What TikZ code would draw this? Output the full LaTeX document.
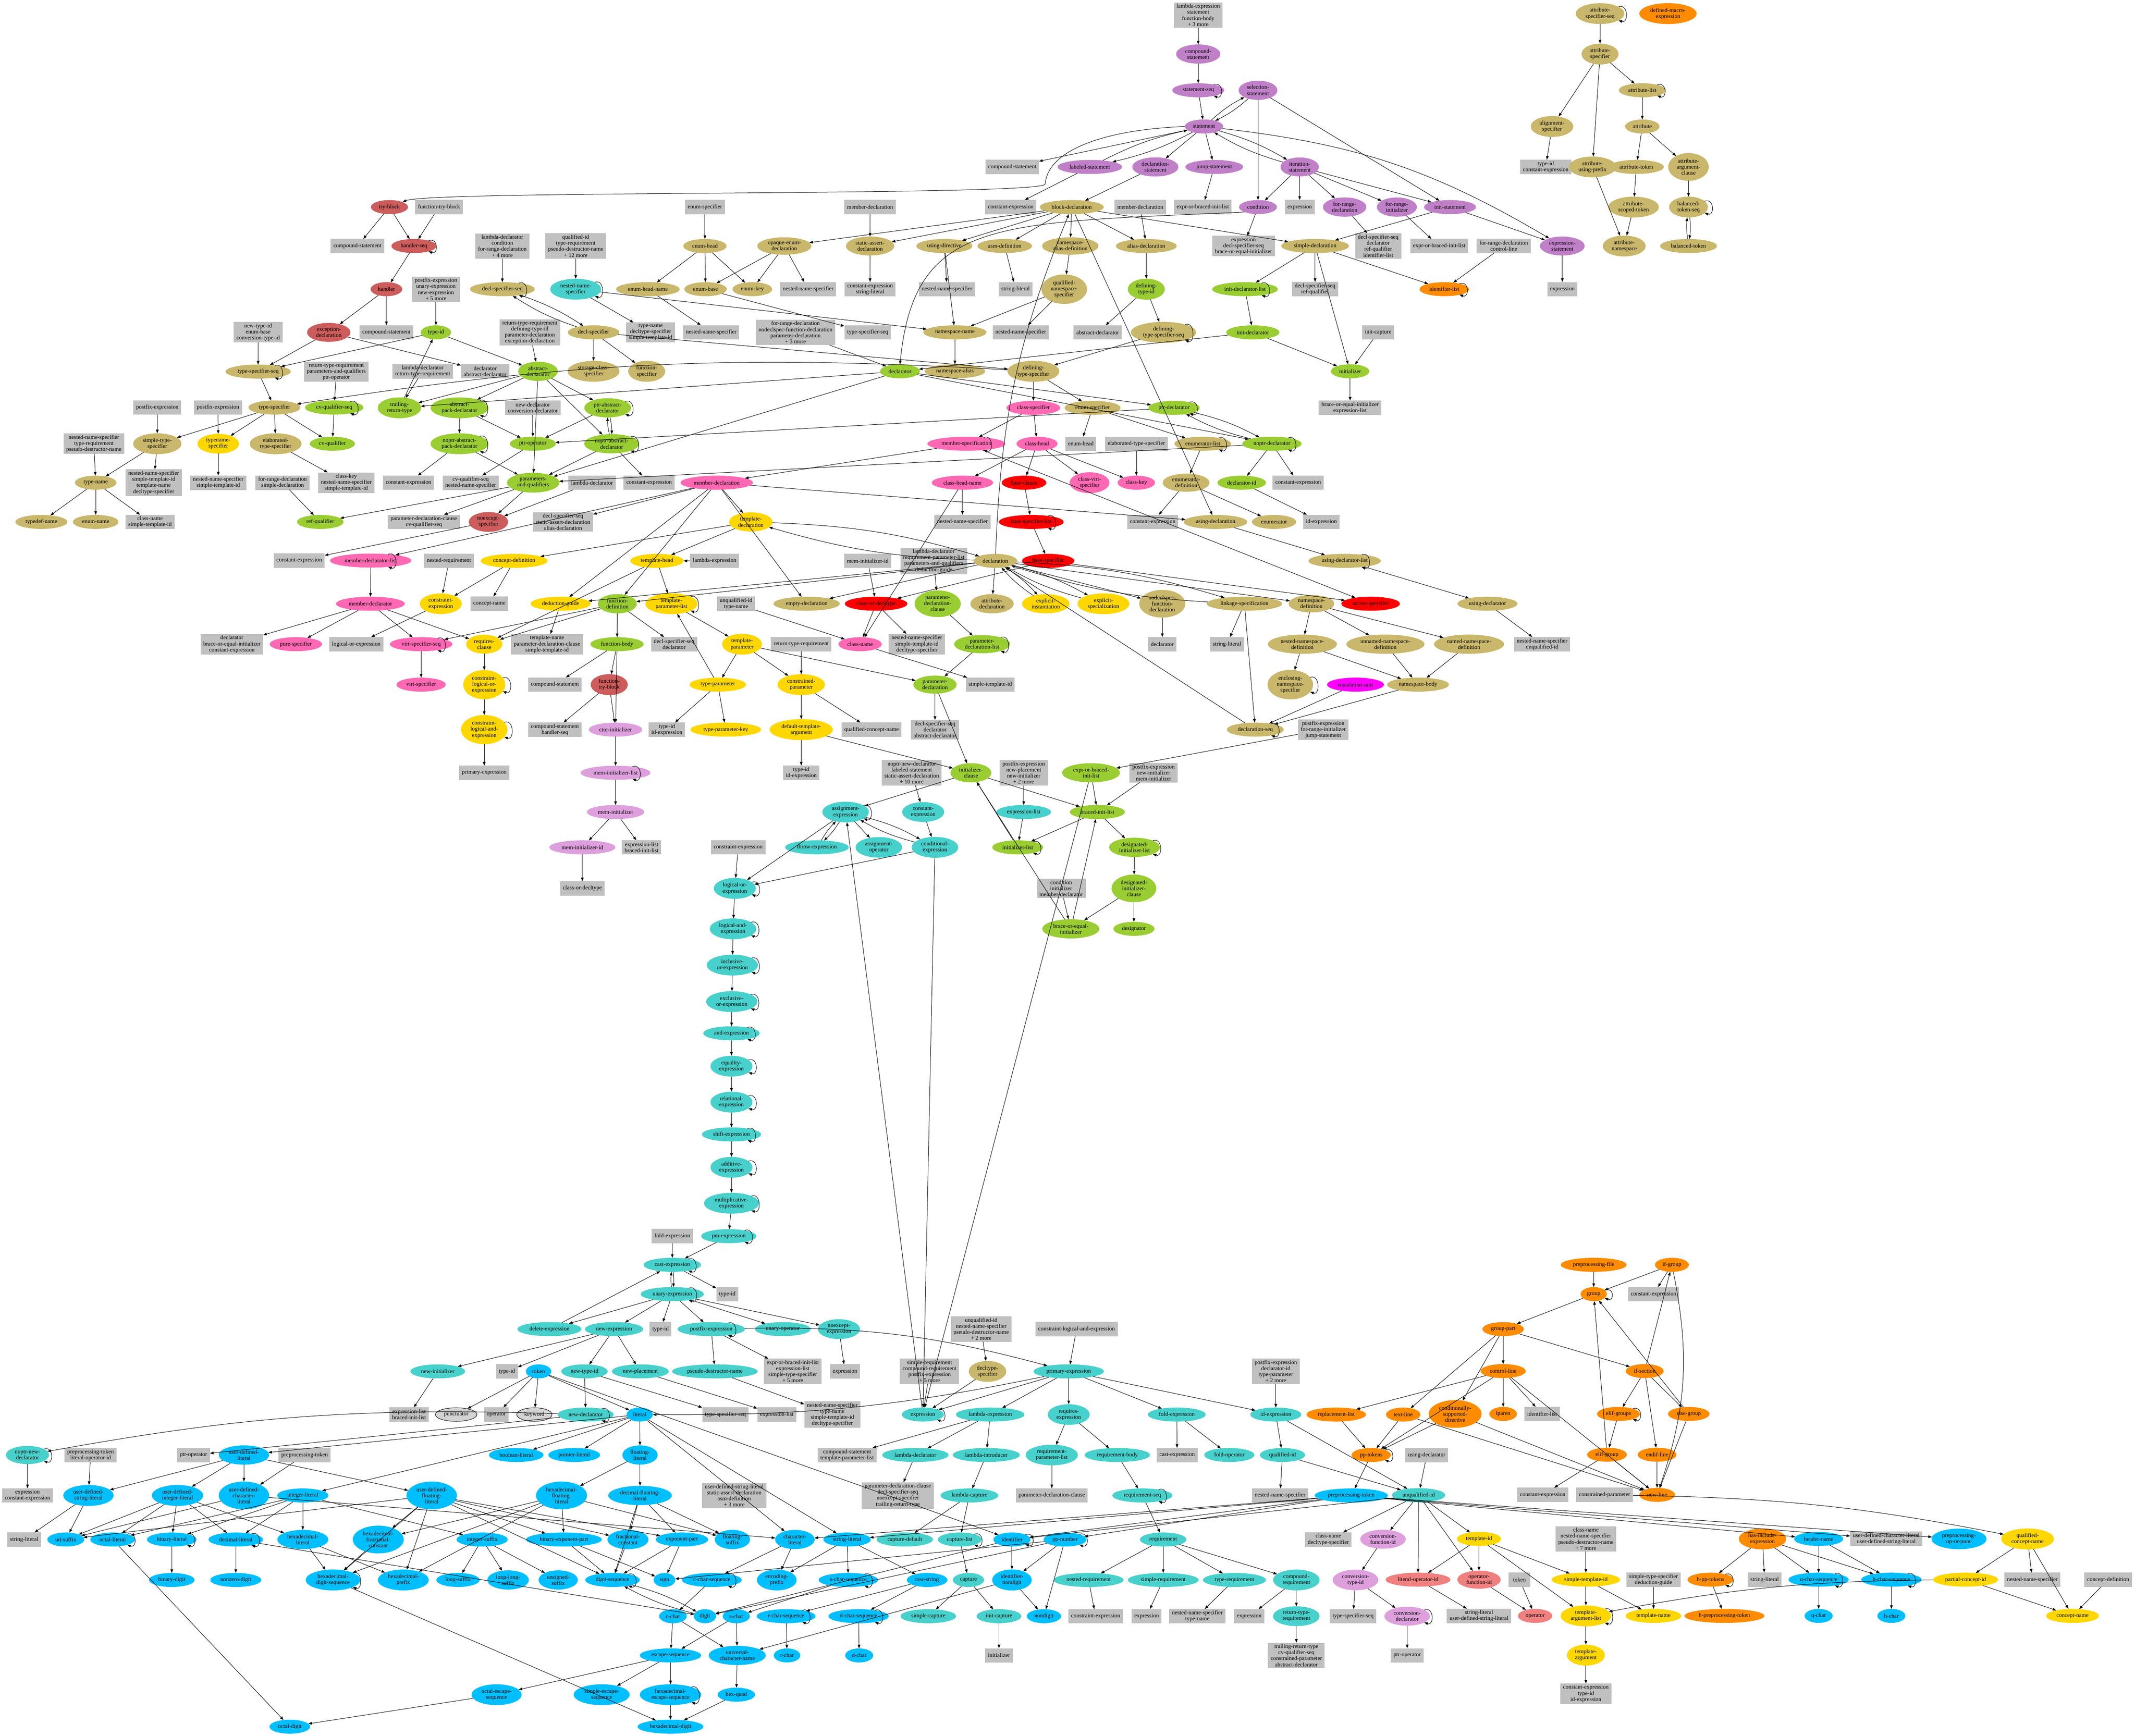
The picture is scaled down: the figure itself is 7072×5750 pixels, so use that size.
\documentclass[tikz,border=0pt]{standalone}
\usepackage{fontspec}
\setmainfont{Liberation Serif}
\usetikzlibrary{shapes.geometric,arrows.meta}
\definecolor{cst}{RGB}{192,128,200}
\definecolor{cdc}{RGB}{201,183,107}
\definecolor{cgr}{RGB}{154,205,50}
\definecolor{cpk}{RGB}{255,105,180}
\definecolor{crd}{RGB}{255,0,0}
\definecolor{ceh}{RGB}{205,92,92}
\definecolor{cyl}{RGB}{255,215,0}
\definecolor{cex}{RGB}{72,209,204}
\definecolor{clx}{RGB}{0,191,255}
\definecolor{cor}{RGB}{255,140,0}
\definecolor{cpl}{RGB}{221,160,221}
\definecolor{clc}{RGB}{240,128,128}
\definecolor{cmg}{RGB}{255,0,255}
\definecolor{cgy}{RGB}{211,211,211}
\definecolor{cbx}{RGB}{192,192,192}
\tikzset{
 every node/.style={font=\fontsize{5.4}{5.7}\selectfont, align=center, text=black},
 el/.style={ellipse, fill=#1, draw=#1, inner xsep=2.3pt, inner ysep=1.5pt, minimum height=0.45cm, minimum width=0.7cm},
 sst/.style={el=cst}, sdc/.style={el=cdc}, sgr/.style={el=cgr}, spk/.style={el=cpk},
 srd/.style={el=crd}, seh/.style={el=ceh}, syl/.style={el=cyl}, sex/.style={el=cex},
 slx/.style={el=clx}, sor/.style={el=cor}, spl/.style={el=cpl}, slc/.style={el=clc}, smg/.style={el=cmg},
 sgy/.style={ellipse, fill=cgy, draw=black, line width=0.4pt, inner xsep=2.3pt, inner ysep=1.5pt, minimum height=0.45cm, minimum width=0.7cm},
 sbx/.style={rectangle, fill=cbx, draw=cbx, inner xsep=2.4pt, inner ysep=1.3pt, minimum height=0.46cm, minimum width=0.7cm},
 ar/.style={-{Triangle[length=1.2mm,width=0.9mm]}, line width=0.4pt},
}
\newcommand\Nd[5]{\node[#1] (#2) at (#3,#4) {#5};}
\newcommand\Ed[2]{\draw[ar] (#1) -- (#2);}
\newcommand\Eb[2]{\draw[ar] (#1) to[bend left=7] (#2); \draw[ar] (#2) to[bend left=7] (#1);}
\newcommand\SLp[1]{\draw[ar] (#1.20) .. controls +(20:0.35cm) and +(-20:0.35cm) .. (#1.-20);}
\begin{document}
\begin{tikzpicture}[x=0.01cm,y=-0.01cm]
\fill[white] (0,0) rectangle (7072,5750);
\useasboundingbox (0,0) rectangle (7072,5750);
% ---------------- statements
\Nd{sbx}{bx1}{3969}{50}{lambda-expression\\statement\\function-body\\+ 3 more}
\Nd{sst}{cmpst}{3969}{179}{compound-\\statement}
\Nd{sst}{stseq}{3969}{299}{statement-seq}
\Nd{sst}{selst}{4167}{299}{selection-\\statement}
\Nd{sst}{stmt}{3988}{419}{statement}
\Nd{sbx}{bx2}{3353}{553}{compound-statement}
\Nd{sst}{labst}{3610}{553}{labeled-statement}
\Nd{sst}{declst}{3827}{553}{declaration-\\statement}
\Nd{sst}{jumpst}{4022}{553}{jump-statement}
\Nd{sst}{iterst}{4305}{553}{iteration-\\statement}
\Nd{sbx}{bx3}{3348}{686}{constant-expression}
\Nd{sdc}{blkdecl}{3550}{686}{block-declaration}
\Nd{sbx}{bx4}{3777}{686}{member-declaration}
\Nd{sbx}{bx5}{3984}{686}{expr-or-braced-init-list}
\Nd{sst}{cond}{4167}{686}{condition}
\Nd{sbx}{bx6}{4305}{686}{expression}
\Nd{sst}{frdecl}{4454}{686}{for-range-\\declaration}
\Nd{sst}{frinit}{4627}{686}{for-range-\\initializer}
\Nd{sst}{initst}{4803}{686}{init-statement}
\Nd{sst}{exprst}{5175}{815}{expression-\\statement}
\Nd{sbx}{bx7}{4119}{815}{expression\\decl-specifier-seq\\brace-or-equal-initializer}
\Nd{sbx}{bx8}{4565}{815}{decl-specifier-seq\\declarator\\ref-qualifier\\identifier-list}
\Nd{sbx}{bx9}{4767}{815}{expr-or-braced-init-list}
\Nd{sbx}{bx10}{4981}{815}{for-range-declaration\\control-line}
\Nd{sbx}{bx11}{4356}{958}{decl-specifier-seq\\ref-qualifier}
\Nd{sbx}{bx12}{5175}{958}{expression}
\Nd{sbx}{bx13}{3636}{1101}{abstract-declarator}
\Nd{sbx}{bx14}{4565}{1101}{init-capture}
\Nd{sbx}{bx15}{4472}{1351}{brace-or-equal-initializer\\expression-list}
\Nd{sbx}{bx16}{3580}{1470}{enum-head}
\Nd{sbx}{bx17}{3764}{1470}{elaborated-type-specifier}
\Nd{sbx}{bx18}{4300}{1599}{constant-expression}
\Nd{sbx}{bx19}{3818}{1729}{constant-expression}
\Nd{sbx}{bx20}{4377}{1729}{id-expression}
\Nd{sdc}{nsaliasdef}{3545}{815}{namespace-\\alias-definition}
\Nd{sdc}{aliasdecl}{3797}{815}{alias-declaration}
\Nd{sdc}{simpdecl}{4356}{815}{simple-declaration}
\Nd{sdc}{qns}{3525}{958}{qualified-\\namespace-\\specifier}
\Nd{sdc}{dtss}{3854}{1101}{defining-\\type-specifier-seq}
\Nd{sdc}{dts}{3423}{1230}{defining-\\type-specifier}
\Nd{sdc}{enumspec}{3619}{1351}{enum-specifier}
\Nd{sdc}{enumlist}{3984}{1470}{enumerator-list}
\Nd{sdc}{enumdef}{3929}{1599}{enumerator-\\definition}
\Nd{sdc}{usingdecl}{4026}{1729}{using-declaration}
\Nd{sdc}{enumerator}{4220}{1729}{enumerator}
\Nd{sdc}{udlist}{4454}{1858}{using-declarator-list}
% attributes
\Nd{sdc}{attrseq}{5300}{45}{attribute-\\specifier-seq}
\Nd{sor}{defmacro}{5525}{45}{defined-macro-\\expression}
\Nd{sdc}{attrspec}{5300}{179}{attribute-\\specifier}
\Nd{sdc}{attrlist}{5440}{299}{attribute-list}
\Nd{sdc}{alignspec}{5141}{419}{alignment-\\specifier}
\Nd{sdc}{attr}{5440}{419}{attribute}
\Nd{sbx}{bxattr}{5120}{553}{type-id\\constant-expression}
\Nd{sdc}{attrusing}{5275}{553}{attribute-\\using-prefix}
\Nd{sdc}{attrtok}{5420}{553}{attribute-token}
\Nd{sdc}{attrargs}{5593}{553}{attribute-\\argument-\\clause}
\Nd{sdc}{attrscoped}{5411}{686}{attribute-\\scoped-token}
\Nd{sdc}{bts}{5593}{686}{balanced-\\token-seq}
\Nd{sdc}{attrns}{5380}{815}{attribute-\\namespace}
\Nd{sdc}{btok}{5593}{815}{balanced-token}
% declarators (right)
\Nd{sgr}{dtid}{3797}{958}{defining-\\type-id}
\Nd{sor}{idl}{4784}{958}{identifier-list}
\Nd{sgr}{initdl}{4124}{958}{init-declarator-list}
\Nd{sgr}{initd}{4150}{1101}{init-declarator}
\Nd{sgr}{initzr}{4472}{1230}{initializer}
\Nd{sgr}{ptrdecl}{3889}{1351}{ptr-declarator}
\Nd{sgr}{noptrdecl}{4213}{1470}{noptr-declarator}
\Nd{sgr}{declid}{4113}{1599}{declarator-id}
\Nd{sgr}{declarator}{2981}{1230}{declarator}
\Nd{spk}{classvirt}{3609}{1599}{class-virt-\\specifier}
\Nd{spk}{classkey}{3764}{1599}{class-key}
\Nd{sdc}{usingdeclr}{4927}{2000}{using-declarator}
\Nd{sbx}{bx83}{5108}{2134}{nested-name-specifier\\unqualified-id}
% zoom 3 area
\Nd{seh}{trybl}{1290}{686}{try-block}
\Nd{sbx}{bx21}{1454}{686}{function-try-block}
\Nd{sbx}{bx22}{2335}{686}{enum-specifier}
\Nd{sbx}{bx23}{2882}{686}{member-declaration}
\Nd{sbx}{bx24}{1184}{815}{compound-statement}
\Nd{seh}{hseq}{1371}{815}{handler-seq}
\Nd{sbx}{bx25}{1664}{815}{lambda-declarator\\condition\\for-range-declaration\\+ 4 more}
\Nd{sbx}{bx26}{1907}{815}{qualified-id\\type-requirement\\pseudo-destructor-name\\+ 12 more}
\Nd{sdc}{enumhead}{2335}{815}{enum-head}
\Nd{sdc}{opaque}{2598}{815}{opaque-enum-\\declaration}
\Nd{sdc}{sad}{2882}{815}{static-assert-\\declaration}
\Nd{sdc}{usingdir}{3128}{815}{using-directive}
\Nd{sdc}{asmdef}{3328}{815}{asm-definition}
\Nd{seh}{handler}{1280}{958}{handler}
\Nd{sbx}{bx27}{1444}{958}{postfix-expression\\unary-expression\\new-expression\\+ 5 more}
\Nd{sdc}{dss}{1664}{958}{decl-specifier-seq}
\Nd{sex}{nns}{1907}{958}{nested-name-\\specifier}
\Nd{sdc}{ehn}{2146}{958}{enum-head-name}
\Nd{sdc}{enumbase}{2337}{958}{enum-base}
\Nd{sdc}{enumkey}{2492}{958}{enum-key}
\Nd{sbx}{bx28}{2677}{958}{nested-name-specifier}
\Nd{sbx}{bx29}{2882}{958}{constant-expression\\string-literal}
\Nd{sbx}{bx30}{3137}{958}{nested-name-specifier}
\Nd{sbx}{bx31}{3364}{958}{string-literal}
\Nd{seh}{excdecl}{1089}{1101}{exception-\\declaration}
\Nd{sbx}{bx32}{1280}{1101}{compound-statement}
\Nd{sgr}{typeid}{1444}{1101}{type-id}
\Nd{sbx}{bx33}{1755}{1101}{return-type-requirement\\defining-type-id\\parameter-declaration\\exception-declaration}
\Nd{sdc}{declspec}{1966}{1101}{decl-specifier}
\Nd{sbx}{bx34}{2155}{1101}{type-name\\decltype-specifier\\simple-template-id}
\Nd{sbx}{bx35}{2356}{1101}{nested-name-specifier}
\Nd{sbx}{bx36}{2635}{1101}{for-range-declaration\\nodeclspec-function-declaration\\parameter-declaration\\+ 3 more}
\Nd{sbx}{bx37}{2874}{1101}{type-specifier-seq}
\Nd{sdc}{nsname}{3163}{1101}{namespace-name}
\Nd{sbx}{bx38}{3381}{1101}{nested-name-specifier}
\Nd{sbx}{bx39}{855}{1101}{new-type-id\\enum-base\\conversion-type-id}
\Nd{sdc}{tss}{855}{1231}{type-specifier-seq}
\Nd{sbx}{bx40}{1114}{1231}{return-type-requirement\\parameters-and-qualifiers\\ptr-operator}
\Nd{sbx}{bx41}{1400}{1230}{lambda-declarator\\return-type-requirement}
\Nd{sbx}{bx42}{1607}{1230}{declarator\\abstract-declarator}
\Nd{sgr}{absdecl}{1782}{1230}{abstract-\\declarator}
\Nd{sdc}{scs}{1966}{1230}{storage-class-\\specifier}
\Nd{sdc}{funcspec}{2142}{1230}{function-\\specifier}
\Nd{sdc}{nsalias}{3163}{1230}{namespace-alias}
\Nd{sbx}{bx43}{521}{1350}{postfix-expression}
\Nd{sbx}{bx44}{722}{1350}{postfix-expression}
\Nd{sdc}{typespec}{909}{1350}{type-specifier}
\Nd{sgr}{cvqs}{1107}{1350}{cv-qualifier-seq}
\Nd{sgr}{trt}{1323}{1351}{trailing-\\return-type}
\Nd{sgr}{apd}{1522}{1351}{abstract-\\pack-declarator}
\Nd{sbx}{bx45}{1765}{1351}{new-declarator\\conversion-declarator}
\Nd{sgr}{ptrabs}{2013}{1351}{ptr-abstract-\\declarator}
\Nd{spk}{classspec}{3423}{1351}{class-specifier}
\Nd{sbx}{bx46}{311}{1470}{nested-name-specifier\\type-requirement\\pseudo-destructor-name}
\Nd{sdc}{sts}{521}{1470}{simple-type-\\specifier}
\Nd{syl}{typenamespec}{723}{1470}{typename-\\specifier}
\Nd{sdc}{ets}{913}{1470}{elaborated-\\type-specifier}
\Nd{sgr}{cvq}{1101}{1470}{cv-qualifier}
\Nd{sgr}{napd}{1522}{1470}{noptr-abstract-\\pack-declarator}
\Nd{sgr}{ptrop}{1765}{1470}{ptr-operator}
\Nd{sgr}{nad}{2026}{1470}{noptr-abstract-\\declarator}
\Nd{spk}{memspec}{3201}{1470}{member-specification}
\Nd{spk}{classhead}{3435}{1470}{class-head}
\Nd{sdc}{typename}{317}{1599}{type-name}
\Nd{sbx}{bx47}{509}{1599}{nested-name-specifier\\simple-template-id\\template-name\\decltype-specifier}
\Nd{sbx}{bx48}{723}{1599}{nested-name-specifier\\simple-template-id}
\Nd{sbx}{bx49}{936}{1599}{for-range-declaration\\simple-declaration}
\Nd{sbx}{bx50}{1147}{1599}{class-key\\nested-name-specifier\\simple-template-id}
\Nd{sbx}{bx51}{1353}{1599}{constant-expression}
\Nd{sbx}{bx52}{1559}{1599}{cv-qualifier-seq\\nested-name-specifier}
\Nd{sgr}{pq}{1766}{1599}{parameters-\\and-qualifiers}
\Nd{sbx}{bx53}{1961}{1599}{lambda-declarator}
\Nd{sbx}{bx54}{2150}{1599}{constant-expression}
\Nd{spk}{memdecl}{2374}{1599}{member-declaration}
\Nd{spk}{chn}{3188}{1599}{class-head-name}
\Nd{srd}{baseclause}{3392}{1599}{base-clause}
\Nd{sdc}{typedefname}{137}{1729}{typedef-name}
\Nd{sdc}{enumname}{317}{1729}{enum-name}
\Nd{sbx}{bx55}{497}{1729}{class-name\\simple-template-id}
\Nd{sgr}{refq}{1061}{1729}{ref-qualifier}
\Nd{sbx}{bx56}{1404}{1729}{parameter-declaration-clause\\cv-qualifier-seq}
\Nd{seh}{noexspec}{1618}{1729}{noexcept-\\specifier}
\Nd{sbx}{bx57}{1865}{1729}{decl-specifier-seq\\static-assert-declaration\\alias-declaration}
\Nd{syl}{tmpldecl}{2487}{1729}{template-\\declaration}
\Nd{sbx}{bx58}{3188}{1729}{nested-name-specifier}
\Nd{srd}{bsl}{3416}{1729}{base-specifier-list}
\Nd{sbx}{bx59}{991}{1857}{constant-expression}
\Nd{spk}{mdl}{1228}{1857}{member-declarator-list}
\Nd{sbx}{bx60}{1487}{1858}{nested-requirement}
\Nd{syl}{conceptdef}{1703}{1858}{concept-definition}
\Nd{syl}{tmplhead}{2176}{1858}{template-head}
\Nd{sbx}{bx61}{2367}{1858}{lambda-expression}
\Nd{sbx}{bx62}{2874}{1858}{mem-initializer-id}
\Nd{sbx}{bx63}{3093}{1858}{lambda-declarator\\requirement-parameter-list\\parameters-and-qualifiers\\deduction-guide}
\Nd{sdc}{declaration}{3297}{1858}{declaration}
\Nd{srd}{basespec}{3472}{1858}{base-specifier}
% zoom 6 area
\Nd{spk}{memdeclr}{1227}{2000}{member-declarator}
\Nd{syl}{constrexpr}{1460}{2000}{constraint-\\expression}
\Nd{sbx}{bx64}{1621}{2000}{concept-name}
\Nd{syl}{dedguide}{1857}{2000}{deduction-guide}
\Nd{sgr}{funcdef}{2045}{2000}{function-\\definition}
\Nd{syl}{tpl}{2224}{2000}{template-\\parameter-list}
\Nd{sbx}{bx65}{2438}{2000}{unqualified-id\\type-name}
\Nd{sbx}{bx66}{768}{2134}{declarator\\brace-or-equal-initializer\\constant-expression}
\Nd{spk}{purespec}{980}{2134}{pure-specifier}
\Nd{sbx}{bx67}{1180}{2134}{logical-or-expression}
\Nd{spk}{vss}{1395}{2134}{virt-specifier-seq}
\Nd{syl}{reqclause}{1604}{2134}{requires-\\clause}
\Nd{sbx}{bx68}{1812}{2134}{template-name\\parameter-declaration-clause\\simple-template-id}
\Nd{sgr}{funcbody}{2044}{2134}{function-body}
\Nd{sbx}{bx69}{2233}{2134}{decl-specifier-seq\\declarator}
\Nd{syl}{tparam}{2458}{2134}{template-\\parameter}
\Nd{spk}{virtspec}{1395}{2268}{virt-specifier}
\Nd{syl}{clor}{1604}{2268}{constraint-\\logical-or-\\expression}
\Nd{sbx}{bx70}{1838}{2268}{compound-statement}
\Nd{seh}{ftb}{2018}{2268}{function-\\try-block}
\Nd{syl}{typeparam}{2378}{2268}{type-parameter}
\Nd{syl}{cland}{1604}{2417}{constraint-\\logical-and-\\expression}
\Nd{sbx}{bx71}{1838}{2417}{compound-statement\\handler-seq}
\Nd{spl}{ctorinit}{2039}{2417}{ctor-initializer}
\Nd{sbx}{bx72}{2209}{2417}{type-id\\id-expression}
\Nd{syl}{tpk}{2404}{2417}{type-parameter-key}
\Nd{sbx}{bx73}{1604}{2560}{primary-expression}
\Nd{spl}{mil}{2039}{2560}{mem-initializer-list}
\Nd{spl}{meminit}{2039}{2690}{mem-initializer}
\Nd{spl}{memiid}{1929}{2807}{mem-initializer-id}
\Nd{sbx}{bx74}{2125}{2807}{expression-list\\braced-init-list}
\Nd{sbx}{bx75}{1929}{2943}{class-or-decltype}
\Nd{sbx}{bx76}{2445}{2807}{constraint-expression}
\Nd{sex}{loe}{2434}{2943}{logical-or-\\expression}
\Nd{sex}{lae}{2428}{3077}{logical-and-\\expression}
\Nd{sex}{ioe}{2426}{3197}{inclusive-\\or-expression}
\Nd{sex}{xoe}{2424}{3318}{exclusive-\\or-expression}
\Nd{sex}{ande}{2423}{3423}{and-expression}
\Nd{sex}{eqe}{2423}{3532}{equality-\\expression}
\Nd{sex}{rele}{2423}{3651}{relational-\\expression}
\Nd{sex}{shifte}{2423}{3758}{shift-expression}
\Nd{sex}{adde}{2423}{3867}{additive-\\expression}
\Nd{sex}{mule}{2423}{3986}{multiplicative-\\expression}
\Nd{sex}{pme}{2414}{4095}{pm-expression}
\Nd{sbx}{bx77}{2227}{4095}{fold-expression}
\Nd{sex}{caste}{2227}{4190}{cast-expression}
\Nd{sex}{unarye}{2227}{4287}{unary-expression}
\Nd{sbx}{bx78}{2409}{4287}{type-id}
% zoom 7 area
\Nd{sdc}{emptydecl}{2672}{2000}{empty-declaration}
\Nd{srd}{cod}{2902}{2000}{class-or-decltype}
\Nd{sgr}{pdc}{3106}{2000}{parameter-\\declaration-\\clause}
\Nd{sdc}{attrdecl}{3286}{2000}{attribute-\\declaration}
\Nd{syl}{explinst}{3464}{2000}{explicit-\\instantiation}
\Nd{syl}{explspec}{3655}{2000}{explicit-\\specialization}
\Nd{sdc}{ndfd}{3850}{2000}{nodeclspec-\\function-\\declaration}
\Nd{sdc}{linkspec}{4122}{2000}{linkage-specification}
\Nd{sdc}{nsdef}{4344}{2000}{namespace-\\definition}
\Nd{srd}{accspec}{4540}{2000}{access-specifier}
\Nd{sbx}{bx79}{2654}{2134}{return-type-requirement}
\Nd{spk}{classname}{2849}{2134}{class-name}
\Nd{sbx}{bx80}{3037}{2134}{nested-name-specifier\\simple-template-id\\decltype-specifier}
\Nd{sgr}{pdl}{3253}{2134}{parameter-\\declaration-list}
\Nd{sbx}{bx81}{3850}{2134}{declarator}
\Nd{sbx}{bx82}{4064}{2134}{string-literal}
\Nd{sdc}{nnd}{4314}{2134}{nested-namespace-\\definition}
\Nd{sdc}{unnd}{4589}{2134}{unnamed-namespace-\\definition}
\Nd{sdc}{nmnd}{4866}{2134}{named-namespace-\\definition}
\Nd{syl}{constrparam}{2654}{2268}{constrained-\\parameter}
\Nd{sgr}{paramdecl}{3097}{2268}{parameter-\\declaration}
\Nd{sbx}{bx84}{3280}{2268}{simple-template-id}
\Nd{sdc}{ens}{4274}{2268}{enclosing-\\namespace-\\specifier}
\Nd{smg}{tu}{4490}{2268}{translation-unit}
\Nd{sdc}{nsbody}{4697}{2268}{namespace-body}
\Nd{syl}{dta}{2654}{2417}{default-template-\\argument}
\Nd{sbx}{bx85}{2887}{2417}{qualified-concept-name}
\Nd{sbx}{bx86}{3097}{2417}{decl-specifier-seq\\declarator\\abstract-declarator}
\Nd{sdc}{declseq}{4158}{2417}{declaration-seq}
\Nd{sbx}{bx87}{4383}{2417}{postfix-expression\\for-range-initializer\\jump-statement}
\Nd{sbx}{bx88}{2654}{2560}{type-id\\id-expression}
\Nd{sbx}{bx89}{3020}{2560}{noptr-new-declarator\\labeled-statement\\static-assert-declaration\\+ 10 more}
\Nd{sgr}{initclause}{3216}{2560}{initializer-\\clause}
\Nd{sbx}{bx90}{3391}{2560}{postfix-expression\\new-placement\\new-initializer\\+ 2 more}
\Nd{sgr}{ebil}{3614}{2560}{expr-or-braced-\\init-list}
\Nd{sbx}{bx91}{3821}{2560}{postfix-expression\\new-initializer\\mem-initializer}
\Nd{sex}{assigne}{2801}{2690}{assignment-\\expression}
\Nd{sex}{conste}{3058}{2690}{constant-\\expression}
\Nd{sex}{exprlist}{3391}{2690}{expression-list}
\Nd{sgr}{bil}{3635}{2690}{braced-init-list}
\Nd{sex}{throwe}{2706}{2807}{throw-expression}
\Nd{sex}{assignop}{2911}{2807}{assignment-\\operator}
\Nd{sex}{conde}{3097}{2807}{conditional-\\expression}
\Nd{sgr}{initlist}{3371}{2807}{initializer-list}
\Nd{sgr}{dil}{3758}{2807}{designated-\\initializer-list}
\Nd{sbx}{bx92}{3515}{2943}{condition\\initializer\\member-declarator}
\Nd{sgr}{dic}{3756}{2943}{designated-\\initializer-\\clause}
\Nd{sgr}{boei}{3547}{3077}{brace-or-equal-\\initializer}
\Nd{sgr}{designator}{3756}{3077}{designator}
% zoom 9 area
\Nd{sex}{deletee}{1820}{4403}{delete-expression}
\Nd{sex}{newe}{2034}{4403}{new-expression}
\Nd{sbx}{bx93}{2188}{4403}{type-id}
\Nd{sex}{postfixe}{2356}{4403}{postfix-expression}
\Nd{sex}{unaryop}{2593}{4403}{unary-operator}
\Nd{sex}{noexe}{2779}{4403}{noexcept-\\expression}
\Nd{sbx}{bx94}{3250}{4403}{unqualified-id\\nested-name-specifier\\pseudo-destructor-name\\+ 2 more}
\Nd{sbx}{bx95}{3566}{4403}{constraint-logical-and-expression}
\Nd{sex}{newinit}{1450}{4543}{new-initializer}
\Nd{sbx}{bx96}{1679}{4543}{type-id}
\Nd{slx}{token}{1784}{4543}{token}
\Nd{sex}{newtypeid}{1936}{4543}{new-type-id}
\Nd{sex}{newplace}{2121}{4543}{new-placement}
\Nd{sex}{pdn}{2368}{4543}{pseudo-destructor-name}
\Nd{sbx}{bx97}{2626}{4543}{expr-or-braced-init-list\\expression-list\\simple-type-specifier\\+ 5 more}
\Nd{sbx}{bx98}{2799}{4543}{expression}
\Nd{sbx}{bx99}{3079}{4543}{simple-requirement\\compound-requirement\\postfix-expression\\+ 5 more}
\Nd{sdc}{decltypespec}{3271}{4543}{decltype-\\specifier}
\Nd{sex}{primarye}{3540}{4543}{primary-expression}
\Nd{sbx}{bx100}{4226}{4543}{postfix-expression\\declarator-id\\type-parameter\\+ 2 more}
\Nd{sbx}{bx101}{1355}{4686}{expression-list\\braced-init-list}
\Nd{sgy}{punct}{1511}{4686}{punctuator}
\Nd{sbx}{bx102}{1644}{4686}{operator}
\Nd{sgy}{keyword}{1770}{4686}{keyword}
\Nd{sex}{newdeclr}{1940}{4686}{new-declarator}
\Nd{slx}{literal}{2119}{4686}{literal}
\Nd{sbx}{bx103}{2403}{4686}{type-specifier-seq}
\Nd{sbx}{bx104}{2573}{4686}{expression-list}
\Nd{sbx}{bx105}{2757}{4686}{nested-name-specifier\\type-name\\simple-template-id\\decltype-specifier}
\Nd{sex}{expression}{3057}{4686}{expression}
\Nd{sex}{lambdae}{3280}{4686}{lambda-expression}
\Nd{sex}{reqe}{3540}{4686}{requires-\\expression}
\Nd{sex}{folde}{3898}{4686}{fold-expression}
\Nd{sex}{ide}{4226}{4686}{id-expression}
\Nd{sor}{replist}{4426}{4686}{replacement-list}
\Nd{sor}{textline}{4648}{4686}{text-line}
\Nd{sor}{csd}{4820}{4684}{conditionally-\\supported-\\directive}
\Nd{sor}{lparen}{4979}{4684}{lparen}
\Nd{sbx}{bx106}{5108}{4684}{identifier-list}
\Nd{sor}{elifgroups}{5361}{4684}{elif-groups}
\Nd{sor}{elsegroup}{5594}{4684}{else-group}
% zoom 10/11 area
\Nd{sex}{nnd2}{91}{4820}{noptr-new-\\declarator}
\Nd{sbx}{bx107}{300}{4820}{preprocessing-token\\literal-operator-id}
\Nd{sbx}{bx108}{641}{4820}{ptr-operator}
\Nd{slx}{udlit}{808}{4820}{user-defined-\\literal}
\Nd{sbx}{bx109}{1009}{4820}{preprocessing-token}
\Nd{slx}{boollit}{1710}{4820}{boolean-literal}
\Nd{slx}{ptrlit}{1902}{4820}{pointer-literal}
\Nd{slx}{floatlit}{2120}{4820}{floating-\\literal}
\Nd{sbx}{bx110}{2806}{4820}{compound-statement\\template-parameter-list}
\Nd{sex}{lambdadeclr}{3032}{4820}{lambda-declarator}
\Nd{sex}{lambdaintro}{3267}{4820}{lambda-introducer}
\Nd{sex}{rpl}{3484}{4820}{requirement-\\parameter-list}
\Nd{sex}{reqbody}{3701}{4820}{requirement-body}
\Nd{sbx}{bx111}{3899}{4820}{cast-expression}
\Nd{sex}{foldop}{4072}{4820}{fold-operator}
\Nd{sex}{qualid}{4248}{4820}{qualified-id}
\Nd{sor}{pptokens}{4542}{4820}{pp-tokens}
\Nd{sbx}{bx112}{4726}{4820}{using-declarator}
\Nd{sor}{elifgroup}{5323}{4819}{elif-group}
\Nd{sor}{endifline}{5489}{4819}{endif-line}
\Nd{sbx}{bx113}{91}{4954}{expression\\constant-expression}
\Nd{slx}{udsl}{293}{4954}{user-defined-\\string-literal}
\Nd{slx}{udil}{588}{4954}{user-defined-\\integer-literal}
\Nd{slx}{udcl}{808}{4954}{user-defined-\\character-\\literal}
\Nd{slx}{intlit}{1003}{4954}{integer-literal}
\Nd{slx}{udfl}{1430}{4954}{user-defined-\\floating-\\literal}
\Nd{slx}{hfl}{1860}{4954}{hexadecimal-\\floating-\\literal}
\Nd{slx}{dfl}{2120}{4954}{decimal-floating-\\literal}
\Nd{sbx}{bx114}{2432}{4954}{user-defined-string-literal\\static-assert-declaration\\asm-definition\\+ 3 more}
\Nd{sbx}{bx115}{2974}{4954}{parameter-declaration-clause\\decl-specifier-seq\\noexcept-specifier\\trailing-return-type}
\Nd{sex}{lambdacap}{3211}{4954}{lambda-capture}
\Nd{sbx}{bx116}{3484}{4954}{parameter-declaration-clause}
\Nd{sex}{reqseq}{3784}{4954}{requirement-seq}
\Nd{sbx}{bx117}{4240}{4954}{nested-name-specifier}
\Nd{slx}{pptoken}{4476}{4954}{preprocessing-token}
\Nd{sex}{unqualid}{4699}{4953}{unqualified-id}
\Nd{sbx}{bx118}{5110}{4952}{constant-expression}
\Nd{sbx}{bx119}{5315}{4952}{constrained-parameter}
\Nd{sor}{newline}{5489}{4952}{new-line}
\Nd{sbx}{bx120}{80}{5100}{string-literal}
\Nd{slx}{udsuffix}{218}{5100}{ud-suffix}
\Nd{slx}{octlit}{373}{5100}{octal-literal}
\Nd{slx}{binlit}{569}{5100}{binary-literal}
\Nd{slx}{declit}{781}{5100}{decimal-literal}
\Nd{slx}{hexlit}{1003}{5100}{hexadecimal-\\literal}
\Nd{slx}{hfc}{1253}{5100}{hexadecimal-\\fractional-\\constant}
\Nd{slx}{intsuffix}{1597}{5100}{integer-suffix}
\Nd{slx}{bep}{1868}{5100}{binary-exponent-part}
\Nd{slx}{fracconst}{2080}{5100}{fractional-\\constant}
\Nd{slx}{exppart}{2259}{5100}{exponent-part}
\Nd{slx}{floatsuffix}{2426}{5100}{floating-\\suffix}
\Nd{slx}{charlit}{2633}{5100}{character-\\literal}
\Nd{slx}{strlit}{2806}{5100}{string-literal}
\Nd{sex}{capdef}{2997}{5100}{capture-default}
\Nd{sex}{caplist}{3179}{5100}{capture-list}
\Nd{slx}{identifier}{3352}{5100}{identifier}
\Nd{slx}{ppnumber}{3528}{5100}{pp-number}
\Nd{sex}{requirement}{3853}{5100}{requirement}
\Nd{sbx}{bx121}{4400}{5100}{class-name\\decltype-specifier}
\Nd{spl}{cfid}{4581}{5099}{conversion-\\function-id}
\Nd{syl}{templateid}{4899}{5098}{template-id}
\Nd{sbx}{bx122}{5253}{5098}{class-name\\nested-name-specifier\\pseudo-destructor-name\\+ 7 more}
\Nd{sor}{hie}{5838}{5098}{has-include-\\expression}
\Nd{slx}{headername}{6024}{5098}{header-name}
\Nd{sbx}{bx123}{6248}{5098}{user-defined-character-literal\\user-defined-string-literal}
\Nd{slx}{ppop}{6489}{5098}{preprocessing-\\op-or-punc}
\Nd{syl}{qcn}{6716}{5098}{qualified-\\concept-name}
\Nd{slx}{bindigit}{569}{5234}{binary-digit}
\Nd{slx}{nzdigit}{781}{5234}{nonzero-digit}
\Nd{slx}{hds}{1103}{5234}{hexadecimal-\\digit-sequence}
\Nd{slx}{hexprefix}{1336}{5234}{hexadecimal-\\prefix}
\Nd{slx}{longsuffix}{1517}{5234}{long-suffix}
\Nd{slx}{llsuffix}{1683}{5234}{long-long-\\suffix}
\Nd{slx}{usuffix}{1849}{5234}{unsigned-\\suffix}
\Nd{slx}{digitseq}{2029}{5234}{digit-sequence}
\Nd{slx}{sign}{2201}{5234}{sign}
\Nd{slx}{ccs}{2358}{5234}{c-char-sequence}
\Nd{slx}{encprefix}{2573}{5234}{encoding-\\prefix}
\Nd{slx}{scs2}{2810}{5234}{s-char-sequence}
\Nd{slx}{rawstr}{3071}{5234}{raw-string}
\Nd{sex}{capture}{3208}{5234}{capture}
\Nd{slx}{idnd}{3352}{5234}{identifier-\\nondigit}
\Nd{sex}{nestedreq}{3606}{5234}{nested-requirement}
\Nd{sex}{simplereq}{3853}{5234}{simple-requirement}
\Nd{sex}{typereq}{4089}{5234}{type-requirement}
\Nd{sex}{compreq}{4294}{5234}{compound-\\requirement}
\Nd{spl}{ctid}{4490}{5234}{conversion-\\type-id}
\Nd{slc}{loid}{4697}{5233}{literal-operator-id}
\Nd{slc}{ofid}{4899}{5233}{operator-\\function-id}
\Nd{sbx}{bx124}{5033}{5233}{token}
\Nd{syl}{stid}{5253}{5233}{simple-template-id}
\Nd{sbx}{bx125}{5477}{5233}{simple-type-specifier\\deduction-guide}
\Nd{sor}{hpptokens}{5666}{5233}{h-pp-tokens}
\Nd{sbx}{bx126}{5845}{5233}{string-literal}
\Nd{slx}{qcs}{6024}{5233}{q-char-sequence}
\Nd{slx}{hcs}{6265}{5233}{h-char-sequence}
\Nd{syl}{pcid}{6511}{5233}{partial-concept-id}
\Nd{sbx}{bx127}{6732}{5233}{nested-name-specifier}
\Nd{sbx}{bx128}{6983}{5233}{concept-definition}
\Nd{slx}{cchar}{2229}{5354}{c-char}
\Nd{slx}{digit}{2335}{5354}{digit}
\Nd{slx}{schar}{2439}{5354}{s-char}
\Nd{slx}{rcs}{2604}{5354}{r-char-sequence}
\Nd{slx}{dcs}{2844}{5354}{d-char-sequence}
\Nd{sex}{simplecap}{3075}{5354}{simple-capture}
\Nd{sex}{initcap}{3309}{5354}{init-capture}
\Nd{slx}{nondigit}{3458}{5354}{nondigit}
\Nd{sbx}{bx129}{3629}{5354}{constraint-expression}
\Nd{sbx}{bx130}{3798}{5354}{expression}
\Nd{sbx}{bx131}{3966}{5354}{nested-name-specifier\\type-name}
\Nd{sbx}{bx132}{4138}{5354}{expression}
\Nd{sex}{rtr}{4294}{5354}{return-type-\\requirement}
\Nd{sbx}{bx133}{4482}{5354}{type-specifier-seq}
\Nd{spl}{convdeclr}{4661}{5354}{conversion-\\declarator}
\Nd{sbx}{bx134}{4899}{5353}{string-literal\\user-defined-string-literal}
\Nd{slc}{operator}{5085}{5353}{operator}
\Nd{syl}{tal}{5253}{5353}{template-\\argument-list}
\Nd{syl}{templname}{5477}{5353}{template-name}
\Nd{sor}{hppt}{5712}{5353}{h-preprocessing-token}
\Nd{slx}{qchar}{6024}{5353}{q-char}
\Nd{slx}{hchar}{6265}{5353}{h-char}
\Nd{syl}{conceptname}{6865}{5353}{concept-name}
\Nd{slx}{escseq}{2221}{5484}{escape-sequence}
\Nd{slx}{ucn}{2442}{5484}{universal-\\character-name}
\Nd{slx}{rchar}{2607}{5484}{r-char}
\Nd{slx}{dchar}{2846}{5484}{d-char}
\Nd{sbx}{bx135}{3309}{5484}{initializer}
\Nd{sbx}{bx136}{4294}{5484}{trailing-return-type\\cv-qualifier-seq\\constrained-parameter\\abstract-declarator}
\Nd{sbx}{bx137}{4661}{5484}{ptr-operator}
\Nd{syl}{targ}{5253}{5483}{template-\\argument}
\Nd{slx}{oes}{1645}{5614}{octal-escape-\\sequence}
\Nd{slx}{ses}{1993}{5614}{simple-escape-\\sequence}
\Nd{slx}{hes}{2221}{5614}{hexadecimal-\\escape-sequence}
\Nd{slx}{hexquad}{2439}{5614}{hex-quad}
\Nd{sbx}{bx138}{5253}{5611}{constant-expression\\type-id\\id-expression}
\Nd{slx}{octdigit}{960}{5720}{octal-digit}
\Nd{slx}{hexdigit}{2221}{5720}{hexadecimal-digit}
% preprocessing top
\Nd{sor}{ppfile}{5279}{4190}{preprocessing-file}
\Nd{sor}{ifgroup}{5538}{4190}{if-group}
\Nd{sor}{group}{5279}{4287}{group}
\Nd{sbx}{bx139}{5477}{4287}{constant-expression}
\Nd{sor}{grouppart}{4979}{4403}{group-part}
\Nd{sor}{controlline}{4979}{4542}{control-line}
\Nd{sor}{ifsection}{5448}{4542}{if-section}
% ================= edges
\Ed{bx1}{cmpst} \Ed{cmpst}{stseq} \SLp{stseq} \Ed{stseq}{stmt} \Eb{stmt}{selst}
\Ed{selst}{cond} \Ed{selst}{initst} \Ed{stmt}{declst} \Ed{stmt}{jumpst} \Eb{stmt}{iterst}
\Eb{stmt}{labst} \Ed{stmt}{bx2} \draw[ar] (stmt) to[bend left=12] (exprst);
\draw[ar] (stmt.west) .. controls (3650,430) and (3470,500) .. (3462,610) .. controls (3450,650) and (1420,630) .. (trybl.north east);
\Ed{labst}{bx3} \Ed{declst}{blkdecl} \Ed{jumpst}{bx5} \Ed{iterst}{cond} \Ed{iterst}{bx6}
\Ed{iterst}{frdecl} \Ed{iterst}{frinit} \Ed{iterst}{initst} \Ed{cond}{bx7}
\draw[ar] (cond.south west) .. controls (3300,740) and (3030,720) .. (declarator.north);
\Ed{frdecl}{bx8} \Ed{frinit}{bx9} \Ed{initst}{simpdecl} \Ed{initst}{exprst} \Ed{exprst}{bx12}
\Ed{bx4}{aliasdecl}
\Ed{blkdecl}{nsaliasdef} \Ed{blkdecl}{aliasdecl} \Ed{blkdecl}{simpdecl} \Ed{blkdecl}{opaque}
\Ed{blkdecl}{sad} \Ed{blkdecl}{usingdir} \Ed{blkdecl}{asmdef} \Ed{blkdecl}{usingdecl}
\Ed{simpdecl}{initdl} \Ed{simpdecl}{bx11} \Ed{simpdecl}{idl} \Ed{simpdecl}{initzr}
\Ed{bx10}{idl} \SLp{idl}
\SLp{initdl} \Ed{initdl}{initd} \Ed{initd}{initzr} \Ed{initd}{declarator} \Ed{bx14}{initzr} \Ed{initzr}{bx15}
\Ed{aliasdecl}{dtid} \Ed{dtid}{bx13} \Ed{dtid}{dtss} \SLp{dtss} \Ed{dtss}{dts}
\Ed{nsaliasdef}{qns} \Ed{qns}{nsname} \Ed{qns}{bx38} \Ed{nns}{nsname}
\Ed{attrtok}{attrscoped} \Ed{attrscoped}{attrns} \Ed{attrargs}{bts} \SLp{bts} \Eb{bts}{btok}
\SLp{attrseq} \Ed{attrseq}{attrspec} \Ed{attrspec}{alignspec} \Ed{attrspec}{attrlist} \Ed{attrspec}{attrusing}
\SLp{attrlist} \Ed{attrlist}{attr} \Ed{alignspec}{bxattr} \Ed{attr}{attrtok} \Ed{attr}{attrargs} \Ed{attrusing}{attrns}
\Ed{dts}{classspec} \Ed{dts}{enumspec} \draw[ar] (dts) to[bend right=6] (typespec);
\Ed{enumspec}{bx16} \Ed{enumspec}{enumlist}
\SLp{ptrdecl} \Eb{ptrdecl}{noptrdecl} \Ed{ptrdecl}{ptrop} \SLp{noptrdecl} \Ed{noptrdecl}{declid}
\Ed{noptrdecl}{bx18} \Ed{noptrdecl}{pq}
\Ed{bx17}{classkey} \SLp{enumlist} \Ed{enumlist}{enumdef} \Ed{enumdef}{bx19} \Ed{enumdef}{enumerator} \Ed{declid}{bx20}
\Ed{usingdecl}{udlist} \SLp{udlist} \Ed{udlist}{usingdeclr} \Ed{usingdeclr}{bx83}
\Ed{declarator}{ptrdecl} \Ed{declarator}{noptrdecl} \Ed{declarator}{trt} \Ed{declarator}{pq} \Ed{bx36}{declarator}
\Ed{trybl}{bx24} \Ed{trybl}{hseq} \Ed{bx21}{hseq} \SLp{hseq} \Ed{hseq}{handler} \Ed{handler}{excdecl} \Ed{handler}{bx32}
\Ed{bx27}{typeid} \Ed{typeid}{absdecl} \Ed{typeid}{tss} \Ed{excdecl}{tss} \Ed{excdecl}{bx42} \Ed{trt}{typeid} \Ed{bx41}{trt}
\Ed{bx25}{dss} \SLp{dss} \Eb{dss}{declspec} \Ed{bx26}{nns} \SLp{nns} \Ed{nns}{bx34}
\Ed{declspec}{scs} \Ed{declspec}{funcspec} \Ed{declspec}{dts}
\Ed{bx22}{enumhead} \Ed{enumhead}{ehn} \Ed{enumhead}{enumbase} \Ed{enumhead}{enumkey} \Ed{ehn}{bx35}
\Ed{opaque}{enumbase} \Ed{opaque}{enumkey} \Ed{opaque}{bx28} \Ed{enumbase}{bx37}
\Ed{bx23}{sad} \Ed{sad}{bx29} \Ed{usingdir}{nsname} \Ed{usingdir}{bx30} \Ed{asmdef}{bx31} \Ed{nsname}{nsalias}
\Ed{absdecl}{trt} \Ed{absdecl}{apd} \Ed{absdecl}{ptrabs} \Ed{absdecl}{nad} \Ed{absdecl}{pq} \Ed{bx33}{absdecl}
\SLp{apd} \Ed{apd}{napd} \Ed{apd}{ptrop} \Ed{bx45}{ptrop}
\SLp{ptrabs} \Ed{ptrabs}{ptrop} \Eb{ptrabs}{nad}
\SLp{napd} \Ed{napd}{pq} \Ed{napd}{bx51} \SLp{nad} \Ed{nad}{pq} \Ed{nad}{bx54}
\Ed{ptrop}{bx52} \Ed{pq}{bx56} \Ed{pq}{noexspec} \Ed{pq}{refq} \Ed{bx53}{noexspec} \Ed{noexspec}{bx59}
\Ed{classspec}{memspec} \Ed{classspec}{classhead} \SLp{memspec} \Ed{memspec}{memdecl} \Ed{memspec}{accspec}
\Ed{classhead}{chn} \Ed{classhead}{baseclause} \Ed{classhead}{classvirt} \Ed{classhead}{classkey}
\Ed{chn}{bx58} \Ed{chn}{classname} \Ed{baseclause}{bsl} \SLp{bsl} \Ed{bsl}{basespec}
\Ed{basespec}{cod} \Ed{basespec}{accspec}
\Ed{memdecl}{bx57} \Ed{memdecl}{tmpldecl} \Ed{memdecl}{mdl} \Ed{memdecl}{usingdecl} \Ed{memdecl}{dedguide}
\Ed{memdecl}{funcdef} \Ed{memdecl}{emptydecl}
\Ed{tmpldecl}{conceptdef} \Ed{tmpldecl}{tmplhead} \Eb{tmpldecl}{declaration}
\Ed{tmplhead}{tpl} \Ed{tmplhead}{reqclause} \Ed{bx61}{tmplhead} \Ed{bx62}{cod} \Ed{bx63}{pdc}
\Ed{declseq}{declaration} \draw[ar] (declaration) to[bend left=10] (blkdecl);
\Ed{declaration}{funcdef} \Ed{declaration}{dedguide} \Ed{declaration}{emptydecl} \Ed{declaration}{attrdecl}
\Eb{declaration}{explinst} \Eb{declaration}{explspec} \Ed{declaration}{ndfd} \Eb{declaration}{linkspec} \Ed{declaration}{nsdef}
\Ed{tss}{typespec} \Ed{bx39}{tss} \Ed{bx40}{cvqs} \SLp{tss} \SLp{cvqs} \Ed{cvqs}{cvq}
\Ed{typespec}{sts} \Ed{typespec}{typenamespec} \Ed{typespec}{ets} \Ed{typespec}{cvq}
\Ed{bx43}{sts} \Ed{bx44}{typenamespec} \Ed{sts}{typename} \Ed{sts}{bx47} \Ed{bx46}{typename}
\Ed{typename}{typedefname} \Ed{typename}{enumname} \Ed{typename}{bx55} \Ed{typenamespec}{bx48} \Ed{ets}{bx50} \Ed{bx49}{refq}
\Ed{bx60}{constrexpr} \Ed{conceptdef}{constrexpr} \Ed{conceptdef}{bx64}
\SLp{mdl} \Ed{mdl}{memdeclr}
\Ed{memdeclr}{bx66} \Ed{memdeclr}{purespec} \Ed{memdeclr}{vss} \Ed{memdeclr}{reqclause}
\Ed{constrexpr}{bx67} \SLp{vss} \Ed{vss}{virtspec}
\Ed{reqclause}{clor} \SLp{clor} \Ed{clor}{cland} \SLp{cland} \Ed{cland}{bx73}
\Ed{funcdef}{reqclause} \Ed{funcdef}{vss} \Ed{funcdef}{funcbody} \Ed{funcdef}{bx69}
\Ed{funcbody}{bx70} \Ed{funcbody}{ftb} \Ed{funcbody}{ctorinit} \Ed{ftb}{bx71} \Ed{ftb}{ctorinit}
\Ed{ctorinit}{mil} \SLp{mil} \Ed{mil}{meminit} \Ed{meminit}{memiid} \Ed{meminit}{bx74} \Ed{memiid}{bx75}
\Ed{dedguide}{bx68} \SLp{tpl} \Ed{tpl}{tparam}
\Ed{typeparam}{tpl} \Ed{typeparam}{bx72} \Ed{typeparam}{tpk}
\Ed{tparam}{typeparam} \Ed{tparam}{constrparam} \Ed{tparam}{paramdecl}
\Ed{bx76}{loe} \Ed{conde}{loe} \Ed{assigne}{loe}
\SLp{loe} \Ed{loe}{lae} \SLp{lae} \Ed{lae}{ioe} \SLp{ioe} \Ed{ioe}{xoe} \SLp{xoe} \Ed{xoe}{ande}
\SLp{ande} \Ed{ande}{eqe} \SLp{eqe} \Ed{eqe}{rele} \SLp{rele} \Ed{rele}{shifte} \SLp{shifte} \Ed{shifte}{adde}
\SLp{adde} \Ed{adde}{mule} \SLp{mule} \Ed{mule}{pme} \SLp{pme} \Ed{pme}{caste} \Ed{bx77}{caste}
\SLp{caste} \Eb{caste}{unarye} \Ed{caste}{bx78}
\Ed{bx65}{classname} \Ed{cod}{classname} \Ed{cod}{bx80} \Ed{classname}{bx84}
\Ed{pdc}{pdl} \SLp{pdl} \Ed{pdl}{paramdecl}
\Ed{ndfd}{bx81} \Ed{linkspec}{bx82} \Ed{linkspec}{declseq}
\Ed{nsdef}{nnd} \Ed{nsdef}{unnd} \Ed{nsdef}{nmnd}
\Ed{nnd}{ens} \Ed{nnd}{nsbody} \SLp{ens} \Ed{unnd}{nsbody} \Ed{nmnd}{nsbody}
\Ed{tu}{declseq} \Ed{nsbody}{declseq} \SLp{declseq}
\Ed{bx79}{constrparam} \Ed{constrparam}{dta} \Ed{constrparam}{bx85}
\Ed{dta}{bx88} \Ed{dta}{initclause} \Ed{paramdecl}{bx86} \Ed{paramdecl}{initclause}
\Ed{bx87}{ebil} \Ed{bx89}{conste} \Ed{initclause}{assigne} \Ed{initclause}{bil}
\Ed{bx90}{exprlist} \Ed{exprlist}{initlist} \SLp{initlist} \Ed{initlist}{initclause}
\Ed{bil}{initlist} \Ed{bil}{dil} \Ed{ebil}{bil} \Ed{ebil}{expression} \Ed{bx91}{bil}
\SLp{dil} \Ed{dil}{dic} \Ed{dic}{boei} \Ed{dic}{designator} \Ed{bx92}{boei} \Ed{boei}{bil} \Ed{boei}{initclause}
\SLp{assigne} \Eb{assigne}{throwe} \Ed{assigne}{assignop} \Eb{assigne}{conde} \Ed{expression}{assigne}
\Ed{conste}{conde} \Ed{conde}{expression}
\Ed{unarye}{deletee} \Ed{deletee}{caste}
\SLp{unarye} \Ed{unarye}{newe} \Ed{unarye}{bx93} \Ed{unarye}{postfixe} \Ed{unarye}{unaryop} \Ed{unarye}{noexe}
\SLp{postfixe} \Ed{postfixe}{pdn} \Ed{postfixe}{bx97} \draw[ar] (postfixe) to[bend left=8] (primarye);
\Ed{noexe}{bx98}
\Ed{newe}{newinit} \Ed{newe}{bx96} \Ed{newe}{newtypeid} \Ed{newe}{newplace}
\Ed{newtypeid}{newdeclr} \Ed{newtypeid}{bx103} \Ed{newplace}{bx104} \Ed{pdn}{bx105}
\Ed{bx94}{decltypespec} \Ed{decltypespec}{expression} \Ed{bx99}{expression} \SLp{expression}
\Ed{bx95}{primarye}
\Ed{primarye}{expression} \Ed{primarye}{lambdae} \Ed{primarye}{reqe} \Ed{primarye}{folde} \Ed{primarye}{ide}
\draw[ar] (primarye) to[bend left=6] (literal);
\Ed{token}{punct} \Ed{token}{bx102} \Ed{token}{keyword} \Ed{token}{literal} \Ed{token}{identifier}
\SLp{newdeclr} \draw[ar] (newdeclr) to[bend right=6] (nnd2); \Ed{newdeclr}{bx108} \Ed{newinit}{bx101}
\SLp{nnd2} \Ed{nnd2}{bx113} \Ed{bx107}{udsl} \Ed{bx109}{udcl}
\Ed{literal}{udlit} \Ed{literal}{boollit} \Ed{literal}{ptrlit} \Ed{literal}{floatlit} \Ed{literal}{intlit}
\Ed{literal}{charlit} \Ed{literal}{strlit}
\Ed{udlit}{udsl} \Ed{udlit}{udil} \Ed{udlit}{udcl} \Ed{udlit}{udfl}
\Ed{udsl}{bx120} \Ed{udsl}{udsuffix}
\Ed{udil}{udsuffix} \Ed{udil}{octlit} \Ed{udil}{binlit} \Ed{udil}{declit} \Ed{udil}{hexlit}
\Ed{udcl}{udsuffix} \Ed{udcl}{charlit}
\Ed{intlit}{octlit} \Ed{intlit}{binlit} \Ed{intlit}{declit} \Ed{intlit}{hexlit} \Ed{intlit}{intsuffix}
\Ed{udfl}{udsuffix} \Ed{udfl}{hfc} \Ed{udfl}{hds} \Ed{udfl}{hexprefix} \Ed{udfl}{fracconst} \Ed{udfl}{digitseq}
\Ed{udfl}{bep} \Ed{udfl}{exppart}
\Ed{floatlit}{hfl} \Ed{floatlit}{dfl}
\Ed{hfl}{hexprefix} \Ed{hfl}{hfc} \Ed{hfl}{hds} \Ed{hfl}{bep} \Ed{hfl}{floatsuffix}
\Ed{dfl}{fracconst} \Ed{dfl}{exppart} \Ed{dfl}{floatsuffix} \Ed{dfl}{digitseq}
\SLp{octlit} \Ed{octlit}{octdigit} \SLp{binlit} \Ed{binlit}{bindigit} \SLp{declit} \Ed{declit}{nzdigit} \Ed{declit}{digit}
\Ed{hexlit}{hds} \Ed{hexlit}{hexprefix} \Ed{hfc}{hds} \SLp{hds} \Ed{hds}{hexdigit}
\Ed{intsuffix}{longsuffix} \Ed{intsuffix}{llsuffix} \Ed{intsuffix}{usuffix}
\Ed{bep}{digitseq} \Ed{bep}{sign} \Ed{fracconst}{digitseq} \Ed{exppart}{sign} \Ed{exppart}{digitseq}
\SLp{digitseq} \Eb{digitseq}{digit}
\SLp{ccs} \Ed{ccs}{cchar} \Ed{cchar}{escseq} \Ed{cchar}{ucn} \Ed{schar}{escseq} \Ed{schar}{ucn}
\Ed{escseq}{oes} \Ed{escseq}{ses} \Ed{escseq}{hes} \Ed{oes}{octdigit} \SLp{hes} \Ed{hes}{hexdigit}
\Ed{ucn}{hexquad} \Ed{hexquad}{hexdigit}
\Ed{charlit}{ccs} \Ed{charlit}{encprefix} \Ed{strlit}{encprefix} \Ed{strlit}{scs2} \Ed{strlit}{rawstr}
\SLp{scs2} \Ed{scs2}{schar} \Ed{rawstr}{rcs} \Ed{rawstr}{dcs} \SLp{rcs} \Ed{rcs}{rchar} \SLp{dcs} \Ed{dcs}{dchar}
\SLp{ppnumber} \Ed{ppnumber}{idnd} \Ed{ppnumber}{nondigit} \Ed{ppnumber}{digit} \Ed{ppnumber}{sign}
\SLp{identifier} \Ed{identifier}{idnd} \Ed{identifier}{digit} \Ed{idnd}{nondigit} \Ed{idnd}{ucn}
\Ed{lambdae}{bx110} \Ed{lambdae}{lambdadeclr} \Ed{lambdae}{lambdaintro} \Ed{lambdadeclr}{bx115} \Ed{lambdaintro}{lambdacap}
\Ed{lambdacap}{capdef} \Ed{lambdacap}{caplist} \SLp{caplist} \Ed{caplist}{capture}
\Ed{capture}{simplecap} \Ed{capture}{initcap} \Ed{initcap}{bx135}
\Ed{reqe}{rpl} \Ed{reqe}{reqbody} \Ed{rpl}{bx116} \Ed{reqbody}{reqseq} \SLp{reqseq} \Ed{reqseq}{requirement}
\Ed{requirement}{nestedreq} \Ed{requirement}{simplereq} \Ed{requirement}{typereq} \Ed{requirement}{compreq}
\Ed{nestedreq}{bx129} \Ed{simplereq}{bx130} \Ed{typereq}{bx131} \Ed{compreq}{bx132} \Ed{compreq}{rtr} \Ed{rtr}{bx136}
\Ed{folde}{bx111} \Ed{folde}{foldop}
\Ed{bx100}{ide} \Ed{ide}{qualid} \Ed{ide}{unqualid} \Ed{qualid}{bx117} \Ed{qualid}{unqualid} \Ed{bx112}{unqualid}
\Ed{unqualid}{bx121} \Ed{unqualid}{cfid} \Ed{unqualid}{loid} \Ed{unqualid}{templateid} \Ed{unqualid}{ofid}
\Ed{unqualid}{identifier}
\Ed{cfid}{ctid} \Ed{ctid}{bx133} \Ed{ctid}{convdeclr} \SLp{convdeclr} \Ed{convdeclr}{bx137}
\SLp{pptokens} \Ed{pptokens}{pptoken}
\Ed{pptoken}{identifier} \Ed{pptoken}{ppnumber} \Ed{pptoken}{charlit} \Ed{pptoken}{strlit}
\Ed{pptoken}{headername} \Ed{pptoken}{bx123} \Ed{pptoken}{ppop}
\Ed{replist}{pptokens} \Ed{textline}{pptokens} \Ed{csd}{pptokens} \Ed{controlline}{pptokens} \Ed{controlline}{replist}
\Ed{ppfile}{group} \SLp{group} \Ed{ifgroup}{group} \Ed{ifgroup}{bx139} \draw[ar] (ifgroup) to[bend left=15] (newline);
\Ed{group}{grouppart} \Ed{grouppart}{controlline} \Ed{grouppart}{textline} \Ed{grouppart}{csd} \Ed{grouppart}{ifsection}
\Ed{ifsection}{ifgroup} \Ed{ifsection}{elifgroups} \Ed{ifsection}{elsegroup} \Ed{ifsection}{endifline}
\SLp{elifgroups} \Ed{elifgroups}{elifgroup} \Ed{elifgroup}{group} \Ed{elifgroup}{bx118} \Ed{elifgroup}{newline}
\Ed{elsegroup}{group} \Ed{elsegroup}{newline} \Ed{endifline}{newline}
\Ed{controlline}{lparen} \Ed{controlline}{bx106} \Ed{controlline}{newline}
\Ed{textline}{newline} \Ed{csd}{newline}
\Ed{templateid}{loid} \Ed{templateid}{ofid} \Ed{templateid}{stid} \Ed{templateid}{tal}
\Ed{bx122}{stid} \Ed{stid}{tal} \Ed{stid}{templname} \Ed{bx125}{templname}
\SLp{tal} \Ed{tal}{targ} \Ed{targ}{bx138}
\Ed{loid}{bx134} \Ed{ofid}{operator} \Ed{bx124}{operator}
\Ed{hie}{hpptokens} \Ed{hie}{bx126} \Ed{hie}{qcs} \Ed{hie}{hcs}
\Ed{headername}{qcs} \Ed{headername}{hcs}
\SLp{hpptokens} \Ed{hpptokens}{hppt} \SLp{qcs} \Ed{qcs}{qchar} \SLp{hcs} \Ed{hcs}{hchar}
\Ed{qcn}{pcid} \Ed{qcn}{bx127} \Ed{qcn}{conceptname} \Ed{pcid}{conceptname} \draw[ar] (pcid) to[bend right=5] (tal);
\Ed{bx128}{conceptname} \draw[ar] (bx119) to[bend left=5] (qcn);
\end{tikzpicture}
\end{document}
